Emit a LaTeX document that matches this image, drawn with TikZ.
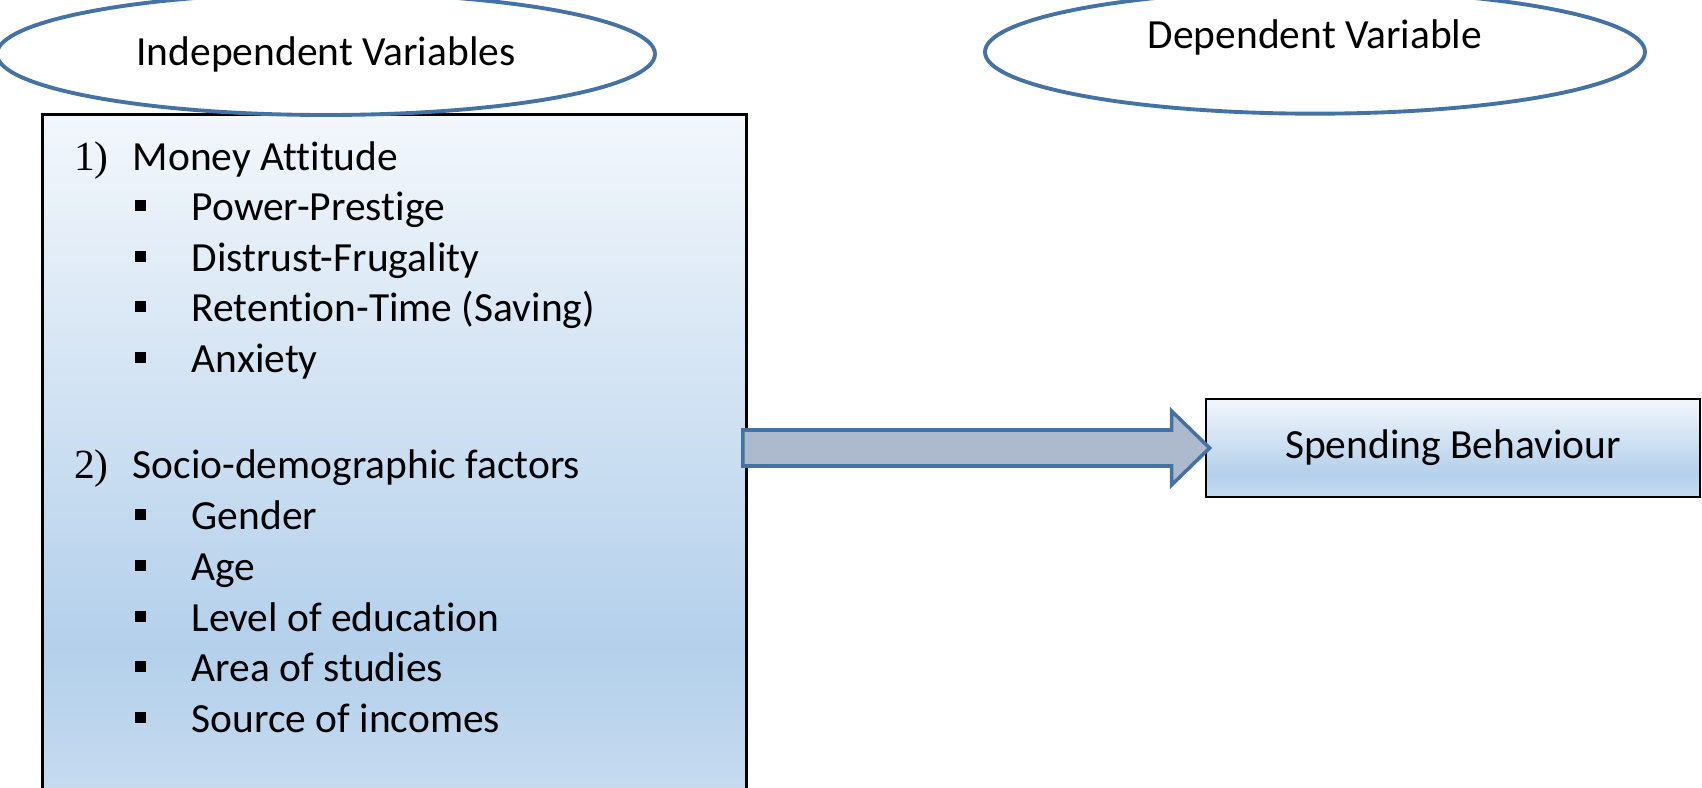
\documentclass[tikz,border=0pt]{standalone}
\usepackage{fontspec}
\setmainfont{Carlito}[Ligatures={NoCommon,NoContextual},Contextuals={NoAlternate}]
\newfontfamily\numfont{Liberation Serif}
\usepackage{xcolor}
\usepackage{tikz}
\usetikzlibrary{arrows.meta,positioning,calc,shapes.geometric}

\definecolor{ovalblue}{RGB}{68,114,164}
\definecolor{arrowfill}{RGB}{173,185,204}
\definecolor{fillTop}{RGB}{243,247,252}
\definecolor{fillDark}{RGB}{180,208,235}
\definecolor{fillBot}{RGB}{200,220,240}
\pgfdeclareverticalshading{officeblue}{100bp}{color(0bp)=(fillBot); color(25bp)=(fillBot); color(37bp)=(fillDark); color(75bp)=(fillTop); color(100bp)=(fillTop)}

\newcommand{\sqbul}{\llap{\rule[0.09cm]{0.11cm}{0.11cm}\hspace{0.46cm}}}
\newcommand{\numlbl}[1]{\llap{\numfont #1\hspace{0.24cm}}}

\begin{document}
\begin{tikzpicture}[
  every node/.style={font=\fontsize{11.8}{14.4}\selectfont},
  oval/.style={ellipse,draw=ovalblue,line width=1.1pt},
  gradbox/.style={draw=black,line width=0.8pt,shade,shading=officeblue},
  listitem/.style={anchor=base west,inner sep=0pt},
  blockarrow/.style={draw=ovalblue,fill=arrowfill,line width=1pt}]
\useasboundingbox (0,0) rectangle (17.02,7.87);
\clip (0,0) rectangle (17.02,7.87);

\node[gradbox,minimum width=7.04cm,minimum height=7.0cm,anchor=north west] (ivbox) at (0.41,6.74) {};
\node[gradbox,minimum width=4.94cm,minimum height=0.98cm] (sb) at (14.53,3.39) {Spending Behaviour};

\node[oval,minimum width=6.58cm,minimum height=1.22cm] (iv) at (3.26,7.33) {Independent Variables};
\node[oval,minimum width=6.60cm,minimum height=1.14cm,text depth=0.35cm] (dv) at (13.15,7.35) {Dependent Variable};

\node[listitem] (ma) at (1.32,6.17) {\numlbl{1)}Money Attitude};
\node[listitem] (pp) at (1.91,5.67) {\sqbul Power-Prestige};
\node[listitem] (dfr) at (1.91,5.16) {\sqbul Distrust-Frugality};
\node[listitem] (rt) at (1.91,4.66) {\sqbul Retention-Time (Saving)};
\node[listitem] (anx) at (1.91,4.15) {\sqbul Anxiety};

\node[listitem] (sd) at (1.32,3.09) {\numlbl{2)}Socio-demographic factors};
\node[listitem] (gen) at (1.91,2.58) {\sqbul Gender};
\node[listitem] (age) at (1.91,2.07) {\sqbul Age};
\node[listitem] (edu) at (1.91,1.56) {\sqbul Level of education};
\node[listitem] (area) at (1.91,1.06) {\sqbul Area of studies};
\node[listitem] (inc) at (1.91,0.55) {\sqbul Source of incomes};

\draw[blockarrow] ($(ivbox.east |- sb.west)+(-0.05,0.18)$) -- ($(sb.west)+(-0.33,0.18)$)
  -- ($(sb.west)+(-0.33,0.37)$) -- ($(sb.west)+(0.05,0)$) -- ($(sb.west)+(-0.33,-0.37)$)
  -- ($(sb.west)+(-0.33,-0.18)$) -- ($(ivbox.east |- sb.west)+(-0.05,-0.18)$) -- cycle;
\end{tikzpicture}
\end{document}
